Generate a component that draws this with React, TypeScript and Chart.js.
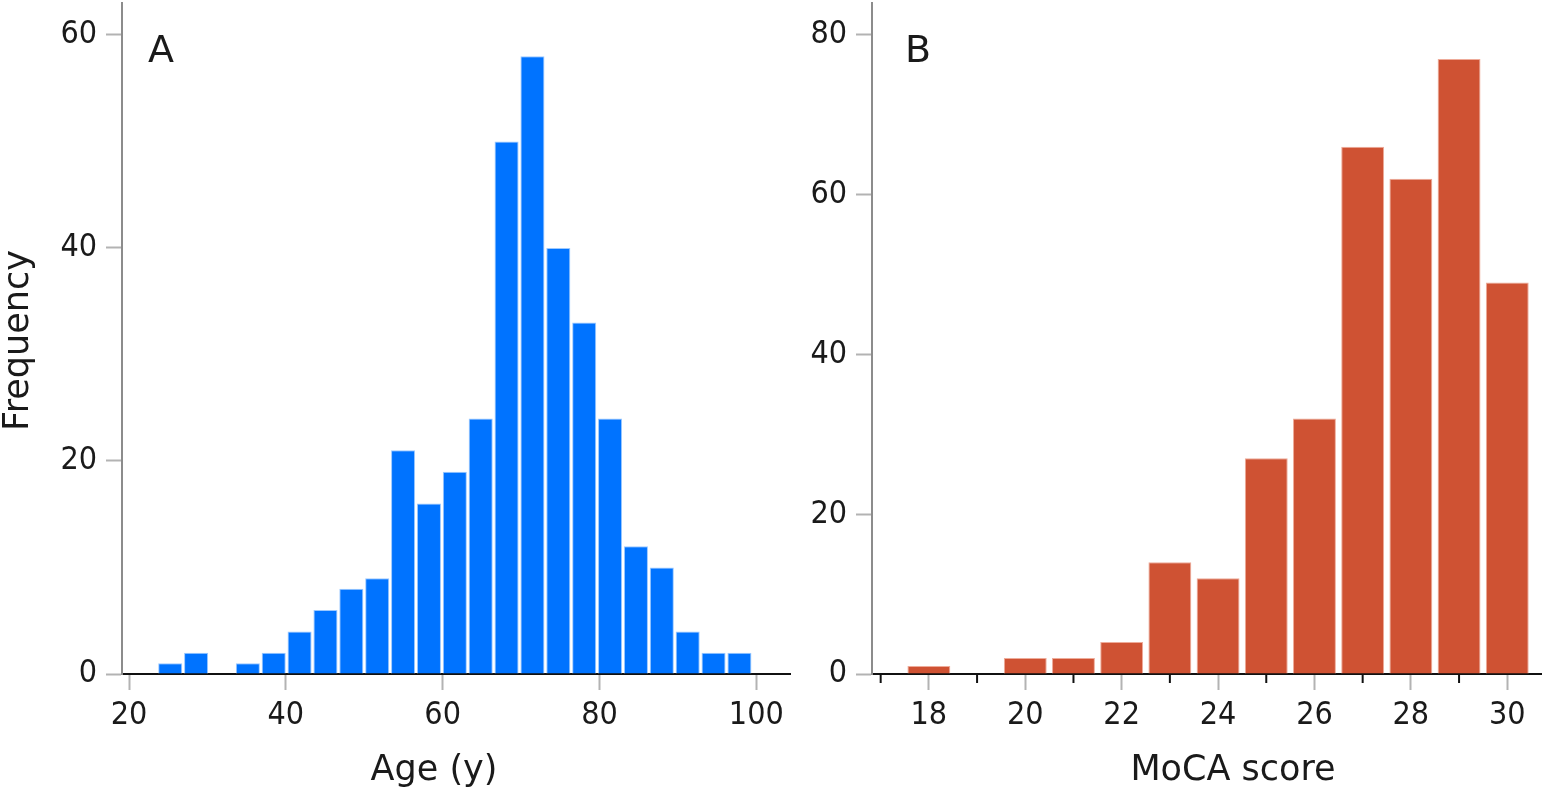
import React, { useEffect, useRef } from "react";
import Chart from "chart.js/auto";

// Panel A: age histogram (bin centres, counts)
const ageBins = [25.25, 28.55, 31.85, 35.15, 38.45, 41.75, 45.05, 48.35, 51.65, 54.95, 58.25, 61.55, 64.85, 68.15, 71.45, 74.75, 78.05, 81.35, 84.65, 87.95, 91.25, 94.55, 97.85];
const ageCounts = [1, 2, 0, 1, 2, 4, 6, 8, 9, 21, 16, 19, 24, 50, 58, 40, 33, 24, 12, 10, 4, 2, 2];
const ageTicks = [20, 40, 60, 80, 100];
const ageLabels = [20, 40, 60, 80, 100];
const ageFreqTicks = [0, 20, 40, 60];

// Panel B: MoCA score histogram
const mocaScores = [18, 19, 20, 21, 22, 23, 24, 25, 26, 27, 28, 29, 30];
const mocaCounts = [1, 0, 2, 2, 4, 14, 12, 27, 32, 66, 62, 77, 49];
const mocaTicks = [17, 18, 19, 20, 21, 22, 23, 24, 25, 26, 27, 28, 29, 30];
const mocaLabels = [18, 20, 22, 24, 26, 28, 30];
const mocaFreqTicks = [0, 20, 40, 60, 80];

const TICK_FONT = "'DejaVu Sans Condensed', 'DejaVu Sans', sans-serif";
const TITLE_FONT = "'DejaVu Sans', sans-serif";
const INK = "#1a1a1a";

const Histogram: React.FC<any> = (p) => {
  const canvasRef = useRef(null);

  useEffect(() => {
    if (!canvasRef.current) return;

    const panelText = {
      id: "panelText",
      afterDraw(chart) {
        const { ctx, chartArea } = chart;
        ctx.save();
        ctx.fillStyle = INK;
        ctx.textBaseline = "alphabetic";
        ctx.textAlign = "left";
        ctx.font = `38px ${TITLE_FONT}`;
        ctx.fillText(p.letter, chartArea.left + p.letterDx, 62);
        ctx.font = `35px ${TITLE_FONT}`;
        ctx.textAlign = "center";
        ctx.fillText(p.xTitle, p.xTitleX, 780);
        if (p.minorOdd) {
          // short black ticks on the unlabelled (odd) scores
          const xs = chart.scales.x;
          ctx.strokeStyle = "#111";
          ctx.lineWidth = 2;
          xs.ticks.forEach((t) => {
            if (t.value % 2 !== 0) {
              const px = xs.getPixelForValue(t.value);
              ctx.beginPath();
              ctx.moveTo(px, xs.top);
              ctx.lineTo(px, xs.top + 9);
              ctx.stroke();
            }
          });
        }
        if (p.yTitle) {
          ctx.translate(28, (chartArea.top + chartArea.bottom) / 2 + 2);
          ctx.rotate(-Math.PI / 2);
          ctx.fillText(p.yTitle, 0, 0);
        }
        ctx.restore();
      },
    };

    const chart = new Chart(canvasRef.current, {
      type: "bar",
      data: {
        datasets: [
          {
            data: p.bins.map((x, i) => ({ x, y: p.counts[i] })),
            backgroundColor: p.color,
            borderColor: p.edge,
            borderWidth: 1,
            barPercentage: p.barPct,
            categoryPercentage: 1,
          },
        ],
      },
      options: {
        animation: false,
        responsive: true,
        maintainAspectRatio: false,
        layout: { padding: { top: 3, right: p.padRight, left: 0, bottom: 0 } },
        plugins: { legend: { display: false }, tooltip: { enabled: false } },
        scales: {
          x: {
            type: "linear",
            offset: false,
            min: p.xMin,
            max: p.xMax,
            afterBuildTicks: (s) => {
              s.ticks = p.xTicks.map((v) => ({ value: v }));
            },
            afterFit: (s) => {
              s.height = 118;
              s.paddingLeft = 0;
              s.paddingRight = 0;
            },
            ticks: {
              autoSkip: false,
              maxRotation: 0,
              padding: 6,
              color: INK,
              font: { family: TICK_FONT, size: 32 },
              callback: (v) => (p.xLabels.includes(v) ? String(v) : ""),
            },
            grid: {
              offset: false,
              drawOnChartArea: false,
              tickLength: 16,
              tickWidth: 2,
              tickColor: (c) => (c.tick && p.xLabels.includes(c.tick.value) ? "#b3b3b3" : "rgba(0,0,0,0)"),
            },
            border: { color: "#111", width: 2 },
          },
          y: {
            min: 0,
            max: p.yMax,
            afterBuildTicks: (s) => {
              s.ticks = p.yTicks.map((v) => ({ value: v }));
            },
            afterFit: (s) => {
              s.width = p.axisLeft;
              s.paddingTop = 0;
              s.paddingBottom = 0;
            },
            ticks: {
              padding: 9,
              color: INK,
              font: { family: TICK_FONT, size: 32 },
            },
            grid: {
              drawOnChartArea: false,
              tickLength: 16,
              tickWidth: 2,
              tickColor: "#b3b3b3",
            },
            border: { color: "#8c8c8c", width: 2 },
          },
        },
      },
      plugins: [panelText],
    });

    return () => {
      chart.destroy();
    };
  }, []);

  return (
    <div style={{ position: "relative", width: p.width, height: 792 }}>
      <canvas ref={canvasRef} />
    </div>
  );
};

const App: React.FC = () => {
  useEffect(() => {
    document.body.style.margin = "0";
    document.body.style.background = "#fff";
  }, []);

  return (
    <div style={{ display: "flex", width: 1542, height: 792, background: "#fff" }}>
      <Histogram
        width={800}
        bins={ageBins}
        counts={ageCounts}
        color="#0073ff"
        edge="#9cc9ff"
        barPct={0.93}
        xMin={19.1}
        xMax={104.3}
        yMax={63}
        xTicks={ageTicks}
        xLabels={ageLabels}
        yTicks={ageFreqTicks}
        axisLeft={122}
        padRight={10}
        letter="A"
        letterDx={26}
        xTitle="Age (y)"
        xTitleX={434}
        yTitle="Frequency"
      />
      <Histogram
        width={742}
        bins={mocaScores}
        counts={mocaCounts}
        color="#cf5233"
        edge="#eeab99"
        barPct={0.89}
        xMin={16.82}
        xMax={30.7}
        yMax={84}
        xTicks={mocaTicks}
        xLabels={mocaLabels}
        yTicks={mocaFreqTicks}
        axisLeft={72}
        padRight={1}
        letter="B"
        letterDx={33}
        xTitle="MoCA score"
        xTitleX={433}
        minorOdd
      />
    </div>
  );
};

export default App;
